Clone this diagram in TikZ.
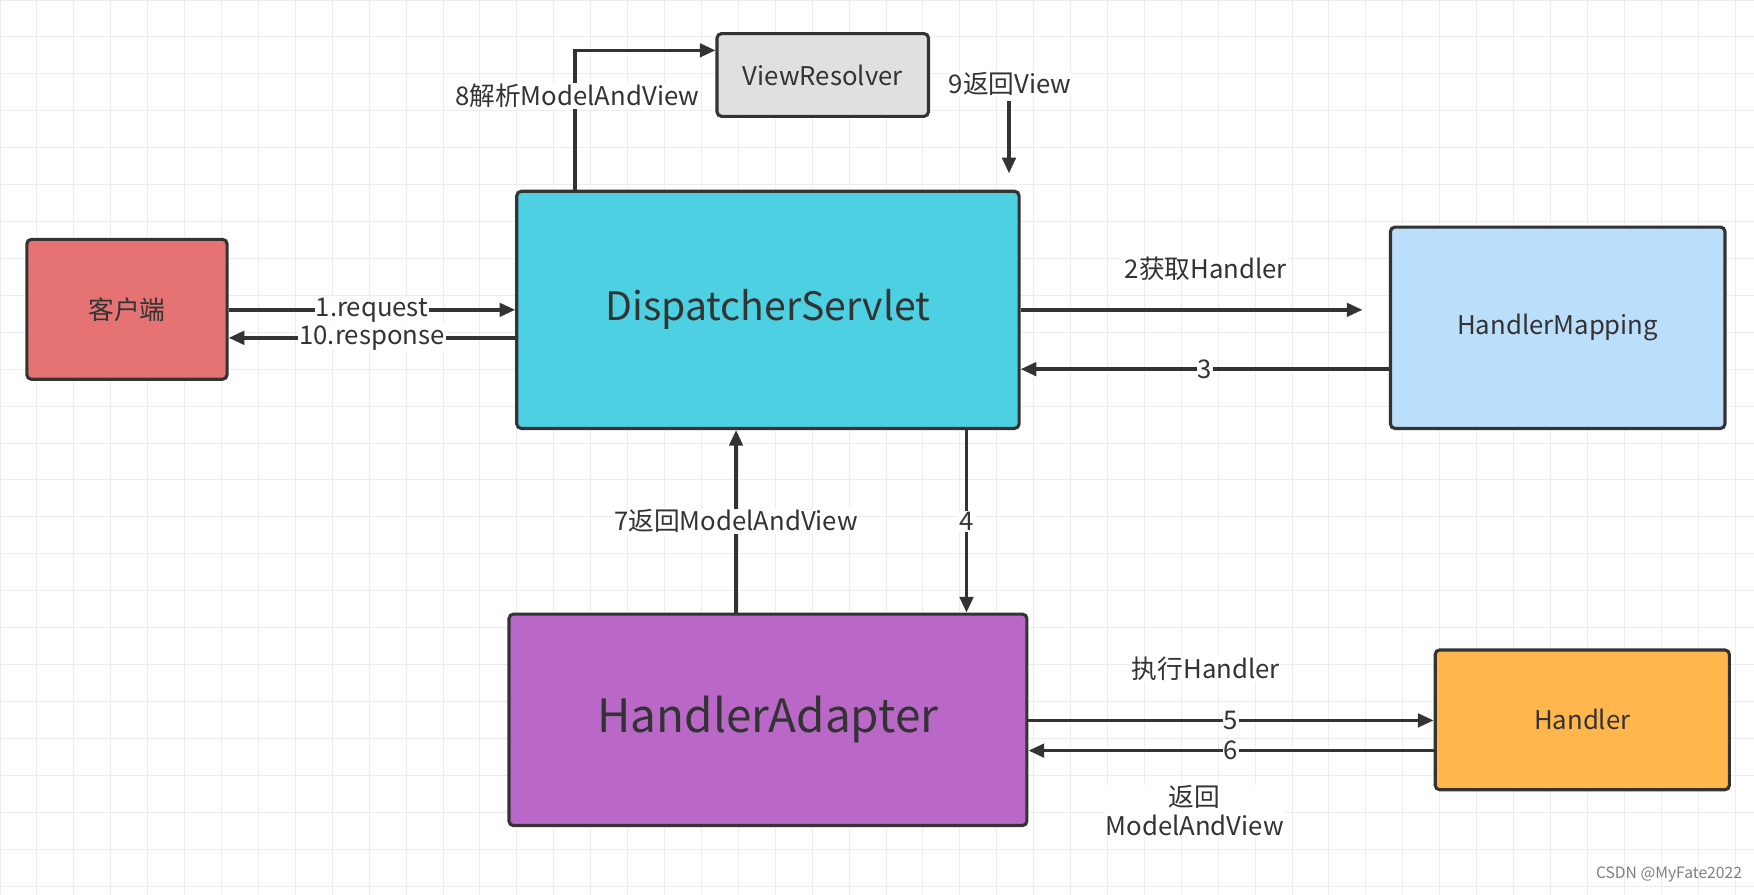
\documentclass[tikz,border=0pt]{standalone}
\usepackage{fontspec}
\setmainfont{Noto Sans CJK SC}
\usetikzlibrary{arrows.meta,positioning}
\definecolor{cliRed}{RGB}{229,115,115}
\definecolor{dsCyan}{RGB}{77,208,225}
\definecolor{vrGray}{RGB}{224,224,224}
\definecolor{hmBlue}{RGB}{187,222,251}
\definecolor{haPurple}{RGB}{186,104,200}
\definecolor{hOrange}{RGB}{255,183,77}
\definecolor{lineDark}{RGB}{51,51,51}
\tikzset{
  box/.style={draw=lineDark,line width=1.4pt,rounded corners=2pt,text=lineDark,font=\fontsize{11.5}{13}\selectfont},
  flow/.style={draw=lineDark,line width=1.5pt,-{Triangle[length=7pt,width=6pt]}},
  lbl/.style={fill=white,inner sep=0.5pt,text=lineDark,font=\fontsize{11.5}{13}\selectfont}
}
\begin{document}
\begin{tikzpicture}[x=0.5pt,y=-0.5pt]
        \useasboundingbox (0,0) rectangle (1568,800);
        \fill[white] (0,0) rectangle (1568,800);
        %grid
        \foreach \gx in {0,33,...,1568} \draw[gray!14,line width=0.4pt] (\gx,0) -- (\gx,800);
        \foreach \gy in {0,33,...,800} \draw[gray!14,line width=0.4pt] (0,\gy) -- (1568,\gy);

        %boxes
        \node[box,fill=cliRed,minimum width=89.5pt,minimum height=62.5pt] (cli) at (113.5,276.5) {客户端};
        \node[box,fill=dsCyan,minimum width=224.5pt,minimum height=106pt,font=\fontsize{17.5}{20}\selectfont] (ds) at (686.5,277) {DispatcherServlet};
        \node[box,fill=vrGray,minimum width=94.5pt,minimum height=37pt] (vr) at (735.5,67) {ViewResolver};
        \node[box,fill=hmBlue,minimum width=149.5pt,minimum height=90pt] (hm) at (1392.5,293) {HandlerMapping};
        \node[box,fill=haPurple,minimum width=231.5pt,minimum height=94.5pt,font=\fontsize{20.5}{24}\selectfont] (ha) at (686.5,643.5) {HandlerAdapter};
        \node[box,fill=hOrange,minimum width=131.5pt,minimum height=62.5pt] (hd) at (1414.5,643.5) {Handler};

        %connectors
        \draw[flow] (cli.east |- 0,277) -- node[lbl] {1.request} (ds.west |- 0,277);
        \draw[flow] (ds.west |- 0,302) -- node[lbl] {10.response} (cli.east |- 0,302);
        \coordinate (hmIn) at (1218,277);
        \draw[flow] (ds.east |- 0,277) -- (hmIn);
        \node[lbl] (l2) at (1078,240) {2获取Handler};
        \draw[flow] (hm.west |- 0,330) -- node[lbl] {3} (ds.east |- 0,330);
        \coordinate (bend8) at (514,45);
        \draw[flow] (ds.north -| bend8) -- (bend8) -- (vr.west |- bend8);
        \node[lbl] (l8) at (516,86) {8解析ModelAndView};
        \coordinate (top9) at (902,90);
        \coordinate (end9) at (902,155);
        \draw[flow] (top9) -- (end9);
        \node[lbl] (l9) at (903,75) {9返回View};
        \draw[flow] (ha.north -| 658,0) -- node[lbl] {7返回ModelAndView} (ds.south -| 658,0);
        \draw[flow] (ds.south -| 864,0) -- node[lbl] {4} (ha.north -| 864,0);
        \draw[flow] (ha.east |- 0,644) -- node[lbl] {5} (hd.west |- 0,644);
        \draw[flow] (hd.west |- 0,671) -- node[lbl] {6} (ha.east |- 0,671);
        \node[lbl] (l5) at (1078,598) {执行Handler};
        \node[lbl,align=center] (l6) at (1068,725) {返回\\ModelAndView};
        \node[text=gray,font=\fontsize{7}{8}\selectfont] (mark) at (1492,782) {CSDN @MyFate2022};
\end{tikzpicture}
\end{document}
